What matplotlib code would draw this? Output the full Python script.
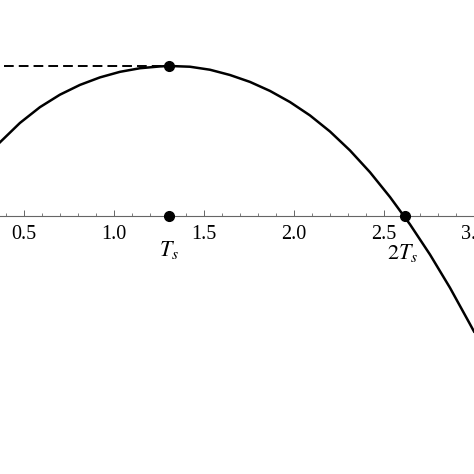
import matplotlib.pyplot as plt
import matplotlib as mpl

mpl.rcParams.update({
    "font.family": "serif",
    "font.serif": ["Liberation Serif", "DejaVu Serif"],
    "mathtext.fontset": "stix",
    "font.size": 14.5,
})

# curve (x in data units, y scaled so the peak is 1)
curve_x = [0.3667, 0.4778, 0.5889, 0.7, 0.8111, 0.9222, 1.0333, 1.1444,
           1.2556, 1.307, 1.4222, 1.5333, 1.6444, 1.7556, 1.8667, 1.9778,
           2.0889, 2.2, 2.3111, 2.4222, 2.5333, 2.6444, 2.7556, 2.8667,
           2.9778, 3.0]
curve_y = [0.492, 0.621, 0.726, 0.809, 0.874, 0.924, 0.961, 0.985,
           0.997, 1.0, 0.995, 0.975, 0.940, 0.894, 0.834, 0.760,
           0.671, 0.564, 0.438, 0.293, 0.128, -0.054, -0.255, -0.476,
           -0.718, -0.767]

ts = 1.307
peak = 1.0
tick_major = [0.5, 1.0, 1.5, 2.0, 2.5, 3.0]
tick_labels = ["0.5", "1.0", "1.5", "2.0", "2.5", "3.0"]
marker_x = [ts, ts, 2 * ts]
marker_y = [peak, 0.0, 0.0]

fig = plt.figure(figsize=(4.74, 4.74), dpi=100)
ax = fig.add_axes([0, 0, 1, 1])

ax.plot(curve_x, curve_y, color="black", lw=1.8, solid_joinstyle="round")
ax.plot([0.39, ts], [peak, peak], color="black", lw=1.4,
        linestyle=(0, (5.0, 2.6)))
ax.plot(marker_x, marker_y, "o", color="black", ms=7, zorder=5)

ax.set_xlim(0.367, 3.0)
ax.set_ylim(-1.715, 1.439)

for side in ["top", "right", "left"]:
    ax.spines[side].set_visible(False)
ax.spines["bottom"].set_position(("data", 0))
ax.spines["bottom"].set_color("#666666")
ax.spines["bottom"].set_linewidth(0.8)

ax.set_yticks([])
ax.set_xticks(tick_major)
ax.set_xticklabels(tick_labels)
ax.set_xticks([x / 10 for x in range(4, 31)], minor=True)
ax.tick_params(axis="x", which="major", direction="in", length=4.5,
               width=0.7, color="#666666", pad=6.5)
ax.tick_params(axis="x", which="minor", direction="in", length=2.5,
               width=0.6, color="#666666")

ax.text(ts, -0.15, r"$T_s$", ha="center", va="top", fontsize=16)
ax.text(2 * ts - 0.01, -0.17, r"$2T_s$", ha="center", va="top", fontsize=16)

fig.savefig("out.png", dpi=100)
